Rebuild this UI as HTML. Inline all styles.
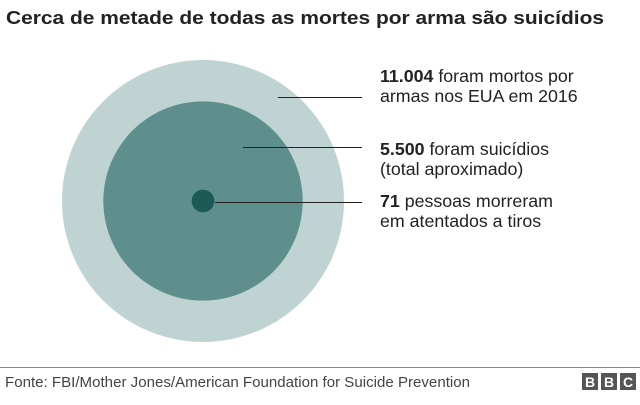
<!DOCTYPE html>
<html><head><meta charset="utf-8"><style>
body{margin:0;width:640px;height:400px;background:#fff;font-family:"Liberation Sans",Arial,sans-serif;overflow:hidden}
</style></head><body>
<svg width="640" height="400">
<text x="6" y="24" font-size="18.5" font-weight="bold" fill="#222" textLength="598" lengthAdjust="spacingAndGlyphs">Cerca de metade de todas as mortes por arma são suicídios</text>
<g id="circles"></g>
<g id="labels"></g>
<line x1="0" y1="367.5" x2="640" y2="367.5" stroke="#888" stroke-width="1"/>
<text x="5" y="387" font-size="14.5" fill="#444" textLength="465" lengthAdjust="spacingAndGlyphs">Fonte: FBI/Mother Jones/American Foundation for Suicide Prevention</text>
<g>
<rect x="582" y="373" width="16" height="17" fill="#555"/><text x="590" y="387" font-size="14" font-weight="bold" fill="#fff" text-anchor="middle">B</text>
<rect x="601" y="373" width="16" height="17" fill="#555"/><text x="609" y="387" font-size="14" font-weight="bold" fill="#fff" text-anchor="middle">B</text>
<rect x="620" y="373" width="16" height="17" fill="#555"/><text x="628" y="387" font-size="14" font-weight="bold" fill="#fff" text-anchor="middle">C</text>
</g>
</svg>
<script>
const values = [11004, 5500, 71];
const boldLabels = ["11.004", "5.500", "71"];
const restLine1 = [" foram mortos por", " foram suicídios", " pessoas morreram"];
const line2 = ["armas nos EUA em 2016", "(total aproximado)", "em atentados a tiros"];
const colors = ["#bfd3d3", "#5e8f8c", "#1d5a55"];
const cx = 203, cy = 201, maxR = 141;
const rScale = v => maxR * Math.sqrt(v / values[0]);
const ns = "http://www.w3.org/2000/svg";
const cg = document.getElementById("circles"), lg = document.getElementById("labels");
const labelY = [82, 155, 207];
const lineY = [97, 147, 202];
const lineStartOffset = [75, 40, 12];
values.forEach((v, i) => {
  const c = document.createElementNS(ns, "circle");
  c.setAttribute("cx", cx); c.setAttribute("cy", cy); c.setAttribute("r", rScale(v)); c.setAttribute("fill", colors[i]);
  
  
  cg.appendChild(c);
});
values.forEach((v, i) => {
  const l = document.createElementNS(ns, "line");
  l.setAttribute("x1", cx + lineStartOffset[i]); l.setAttribute("x2", 362); l.setAttribute("y1", lineY[i] + 0.5); l.setAttribute("y2", lineY[i] + 0.5);
  l.setAttribute("stroke", "#222"); l.setAttribute("stroke-width", "1");
  
  
  lg.appendChild(l);
  const t = document.createElementNS(ns, "text");
  t.setAttribute("x", 380); t.setAttribute("y", labelY[i]); t.setAttribute("font-size", "17.8"); t.setAttribute("fill", "#222");
  t.innerHTML = '<tspan font-weight="bold">' + boldLabels[i] + '</tspan>' + restLine1[i] + '<tspan x="380" dy="20">' + line2[i] + '</tspan>';
  
  
  lg.appendChild(t);
});
</script>
</body></html>
